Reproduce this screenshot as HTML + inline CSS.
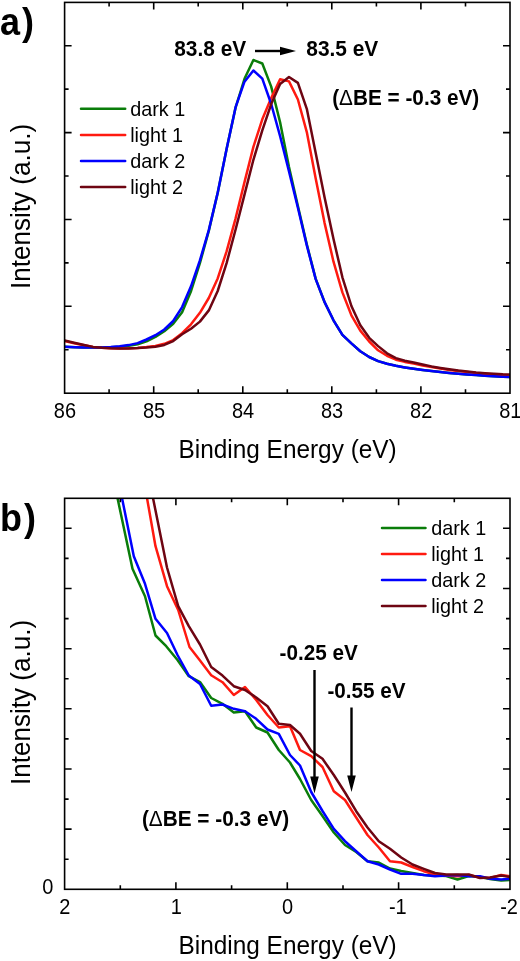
<!DOCTYPE html>
<html lang="en"><head><meta charset="utf-8"><title>XPS spectra</title>
<style>html,body{margin:0;padding:0;background:#fff;}svg{display:block;}text{font-family:"Liberation Sans",Arial,Helvetica,sans-serif;fill:#000;}.b{font-weight:bold;}.n{font-weight:normal;}</style>
</head><body>
<svg width="520" height="961" viewBox="0 0 520 961">
<rect x="0" y="0" width="520" height="961" fill="#fff"/>
<defs><clipPath id="ca"><rect x="64.6" y="2.4" width="445.4" height="390.8"/></clipPath>
<clipPath id="cb"><rect x="64.6" y="498.3" width="445.4" height="391.0"/></clipPath></defs>
<g clip-path="url(#ca)" fill="none" stroke-width="2.5" stroke-linejoin="round" stroke-linecap="round">
<polyline stroke="#0a7d0a" points="64.6,346.8 75.2,347.2 84.1,347.4 93.0,347.5 101.9,347.4 110.8,347.2 119.7,346.7 128.7,345.8 137.6,344.3 146.5,341.4 155.4,336.9 164.3,331.2 173.2,323.8 182.1,312.2 191.0,291.2 199.9,263.2 208.8,230.9 217.7,192.9 226.6,149.0 235.6,107.5 244.5,78.8 253.4,60.0 262.3,63.5 271.2,86.6 280.1,122.2 289.0,167.0 297.9,206.0 306.8,244.3 315.7,278.9 324.6,302.2 333.5,320.3 342.4,334.8 351.4,343.4 360.3,351.3 369.2,357.0 378.1,361.1 387.0,363.8 395.9,365.8 404.8,367.4 413.7,368.8 422.6,370.0 431.5,371.1 440.4,372.1 449.3,373.0 458.3,373.8 467.2,374.5 476.1,375.1 485.0,375.7 493.9,376.2 502.8,376.7 510.0,377.0"/>
<polyline stroke="#ff1a10" points="64.6,341.0 75.2,343.5 84.1,345.3 93.0,347.0 101.9,347.8 110.8,348.3 119.7,348.5 128.7,348.3 137.6,347.9 146.5,347.1 155.4,345.9 164.3,343.8 173.2,340.1 182.1,333.2 191.0,324.3 199.9,312.8 208.8,298.0 217.7,278.4 226.6,251.4 235.6,218.3 244.5,182.1 253.4,146.9 262.3,119.3 271.2,98.1 280.1,79.2 289.0,81.4 297.9,99.5 306.8,132.1 315.7,178.5 324.6,223.1 333.5,261.7 342.4,292.4 351.4,315.3 360.3,330.6 369.2,341.5 378.1,350.3 387.0,355.8 395.9,359.7 404.8,361.9 413.7,363.6 422.6,365.4 431.5,367.1 440.4,368.6 449.3,369.9 458.3,371.1 467.2,372.1 476.1,373.0 485.0,373.7 493.9,374.4 502.8,374.9 510.0,375.2"/>
<polyline stroke="#0000ff" points="64.6,346.8 75.2,347.2 84.1,347.4 93.0,347.5 101.9,347.4 110.8,347.0 119.7,346.2 128.7,345.1 137.6,343.1 146.5,339.5 155.4,335.2 164.3,329.5 173.2,321.0 182.1,307.1 191.0,286.3 199.9,260.4 208.8,230.1 217.7,192.8 226.6,149.0 235.6,107.2 244.5,81.7 253.4,70.5 262.3,78.6 271.2,104.0 280.1,136.2 289.0,171.4 297.9,207.8 306.8,245.4 315.7,279.1 324.6,302.1 333.5,320.3 342.4,334.8 351.4,343.4 360.3,351.3 369.2,357.0 378.1,361.1 387.0,363.8 395.9,365.8 404.8,367.4 413.7,368.8 422.6,370.0 431.5,371.1 440.4,372.1 449.3,373.0 458.3,373.8 467.2,374.5 476.1,375.1 485.0,375.7 493.9,376.2 502.8,376.7 510.0,377.0"/>
<polyline stroke="#6e0512" points="64.6,340.5 75.2,343.0 84.1,345.0 93.0,346.9 101.9,347.8 110.8,348.3 119.7,348.5 128.7,348.4 137.6,348.1 146.5,347.6 155.4,346.7 164.3,344.9 173.2,341.1 182.1,334.3 191.0,328.8 199.9,321.6 208.8,310.4 217.7,291.0 226.6,263.1 235.6,229.5 244.5,194.6 253.4,159.8 262.3,130.3 271.2,104.1 280.1,84.0 289.0,77.0 297.9,82.9 306.8,108.8 315.7,153.0 324.6,197.5 333.5,239.0 342.4,277.3 351.4,306.0 360.3,325.3 369.2,337.8 378.1,346.1 387.0,353.3 395.9,358.1 404.8,360.7 413.7,362.5 422.6,364.5 431.5,366.4 440.4,367.9 449.3,369.3 458.3,370.6 467.2,371.6 476.1,372.5 485.0,373.2 493.9,373.8 502.8,374.3 510.0,374.5"/>
</g>
<path d="M109.1 2.4v4M109.1 393.2v-4M153.7 2.4v7M153.7 393.2v-7M198.2 2.4v4M198.2 393.2v-4M242.8 2.4v7M242.8 393.2v-7M287.3 2.4v4M287.3 393.2v-4M331.8 2.4v7M331.8 393.2v-7M376.4 2.4v4M376.4 393.2v-4M420.9 2.4v7M420.9 393.2v-7M465.5 2.4v4M465.5 393.2v-4M64.6 45.7h7M510.0 45.7h-7M64.6 89.1h4M510.0 89.1h-4M64.6 132.6h7M510.0 132.6h-7M64.6 176.0h4M510.0 176.0h-4M64.6 219.5h7M510.0 219.5h-7M64.6 262.9h4M510.0 262.9h-4M64.6 306.3h7M510.0 306.3h-7M64.6 349.8h4M510.0 349.8h-4" stroke="#000" stroke-width="1.6" fill="none"/>
<rect x="64.6" y="2.4" width="445.4" height="390.8" fill="none" stroke="#000" stroke-width="1.6"/>
<text transform="translate(64.9 417.6) scale(1 1.060)" font-size="20" text-anchor="middle">86</text>
<text transform="translate(154.0 417.6) scale(1 1.060)" font-size="20" text-anchor="middle">85</text>
<text transform="translate(243.1 417.6) scale(1 1.060)" font-size="20" text-anchor="middle">84</text>
<text transform="translate(332.1 417.6) scale(1 1.060)" font-size="20" text-anchor="middle">83</text>
<text transform="translate(421.2 417.6) scale(1 1.060)" font-size="20" text-anchor="middle">82</text>
<text transform="translate(510.3 417.6) scale(1 1.060)" font-size="20" text-anchor="middle">81</text>
<text transform="translate(287.6 457.6) scale(1 1.060)" font-size="24.4" text-anchor="middle">Binding Energy (eV)</text>
<text transform="translate(29.7 206.4) rotate(-90) scale(1 1.060)" font-size="26.1" text-anchor="middle">Intensity (a.u.)</text>
<text class="b" transform="translate(0.0 35.0) scale(1 1.060)" font-size="36" letter-spacing="2">a)</text>
<line x1="81" x2="125.2" y1="108.8" y2="108.8" stroke="#0a7d0a" stroke-width="2.5" stroke-linecap="round"/>
<text transform="translate(130.2 115.7) scale(1 1.060)" font-size="19.8">dark 1</text>
<line x1="81" x2="125.2" y1="134.9" y2="134.9" stroke="#ff1a10" stroke-width="2.5" stroke-linecap="round"/>
<text transform="translate(130.2 141.8) scale(1 1.060)" font-size="19.8">light 1</text>
<line x1="81" x2="125.2" y1="161.0" y2="161.0" stroke="#0000ff" stroke-width="2.5" stroke-linecap="round"/>
<text transform="translate(130.2 167.9) scale(1 1.060)" font-size="19.8">dark 2</text>
<line x1="81" x2="125.2" y1="187.1" y2="187.1" stroke="#6e0512" stroke-width="2.5" stroke-linecap="round"/>
<text transform="translate(130.2 194.0) scale(1 1.060)" font-size="19.8">light 2</text>
<text class="b" transform="translate(174.2 56.0) scale(1 1.060)" font-size="20.9">83.8 eV</text>
<text class="b" transform="translate(306.3 56.0) scale(1 1.060)" font-size="20.9">83.5 eV</text>
<path d="M255 51H283" stroke="#000" stroke-width="2.4" fill="none"/><path d="M296 51L280 46.8V55.2Z" fill="#000"/>
<text class="b" transform="translate(332.2 105.0) scale(1 1.060)" font-size="20.75">(<tspan class="n">Δ</tspan>BE = -0.3 eV)</text>
<g clip-path="url(#cb)" fill="none" stroke-width="2.5" stroke-linejoin="round" stroke-linecap="round">
<polyline stroke="#0a7d0a" points="117.5,498.0 132.5,568.8 145.0,596.2 155.5,635.5 166.2,646.2 177.5,660.0 188.8,676.2 200.0,682.0 211.2,698.0 222.5,703.8 233.8,712.5 245.0,711.2 256.2,727.5 267.5,732.5 278.8,750.0 290.0,762.5 300.0,779.0 311.2,800.0 322.5,816.0 333.8,832.5 345.0,845.0 356.2,852.0 367.5,861.2 378.8,862.5 390.0,868.5 401.2,871.0 412.5,873.0 423.8,875.0 435.0,875.5 446.2,876.0 457.5,879.5 468.8,876.0 480.0,877.0 490.0,879.0 501.2,880.5 510.0,880.0"/>
<polyline stroke="#ff1a10" points="147.0,498.0 155.5,546.2 167.0,586.2 178.2,610.0 189.5,647.0 200.0,660.5 211.2,675.2 222.5,682.2 233.8,695.0 245.0,687.0 256.2,700.0 267.5,715.0 278.8,727.5 290.0,726.2 300.0,750.0 311.2,756.2 322.5,767.0 333.8,791.2 345.0,800.0 356.2,817.5 367.5,835.0 378.8,847.5 390.0,861.2 401.2,862.5 412.5,867.0 423.8,871.2 435.0,874.5 446.2,875.5 457.5,876.2 468.8,875.0 480.0,877.5 490.0,878.0 501.2,875.0 510.0,876.2"/>
<polyline stroke="#0000ff" points="122.0,498.0 133.8,556.2 145.0,583.8 155.5,618.8 167.0,633.0 177.5,655.0 188.8,675.5 200.0,684.0 211.2,705.8 222.5,704.5 233.8,708.8 245.0,711.2 256.2,718.8 267.5,729.5 278.8,733.8 290.0,755.0 300.0,765.5 311.2,792.0 322.5,811.0 333.8,828.8 345.0,841.2 356.2,851.2 367.5,861.2 378.8,864.5 390.0,869.5 401.2,873.8 412.5,873.8 423.8,875.0 435.0,876.2 446.2,875.5 457.5,875.0 468.8,876.2 480.0,876.2 490.0,878.8 501.2,879.5 510.0,878.8"/>
<polyline stroke="#6e0512" points="153.0,498.0 167.0,567.5 178.2,606.2 188.8,626.2 200.0,644.5 211.2,667.0 222.5,675.6 233.8,686.2 245.0,690.0 256.2,697.5 267.5,706.2 278.8,723.8 290.0,725.0 300.0,733.8 311.2,751.0 322.5,758.8 333.8,775.0 345.0,792.5 356.2,811.2 367.5,827.5 378.8,841.2 390.0,848.8 401.2,857.5 412.5,864.5 423.8,868.8 435.0,873.0 446.2,874.5 457.5,874.5 468.8,874.5 480.0,878.0 490.0,877.5 501.2,875.5 510.0,877.0"/>
</g>
<path d="M120.3 498.3v4M120.3 889.3v-4M175.9 498.3v7M175.9 889.3v-7M231.6 498.3v4M231.6 889.3v-4M287.3 498.3v7M287.3 889.3v-7M343.0 498.3v4M343.0 889.3v-4M398.6 498.3v7M398.6 889.3v-7M454.3 498.3v4M454.3 889.3v-4M64.6 859.2h4M510.0 859.2h-4M64.6 829.1h7M510.0 829.1h-7M64.6 799.1h4M510.0 799.1h-4M64.6 769.0h7M510.0 769.0h-7M64.6 738.9h4M510.0 738.9h-4M64.6 708.8h7M510.0 708.8h-7M64.6 678.7h4M510.0 678.7h-4M64.6 648.7h7M510.0 648.7h-7M64.6 618.6h4M510.0 618.6h-4M64.6 588.5h7M510.0 588.5h-7M64.6 558.4h4M510.0 558.4h-4M64.6 528.3h7M510.0 528.3h-7" stroke="#000" stroke-width="1.6" fill="none"/>
<rect x="64.6" y="498.3" width="445.4" height="391.0" fill="none" stroke="#000" stroke-width="1.6"/>
<text transform="translate(64.9 913.5) scale(1 1.060)" font-size="20" text-anchor="middle">2</text>
<text transform="translate(176.2 913.5) scale(1 1.060)" font-size="20" text-anchor="middle">1</text>
<text transform="translate(287.6 913.5) scale(1 1.060)" font-size="20" text-anchor="middle">0</text>
<text transform="translate(397.8 913.5) scale(1 1.060)" font-size="20" text-anchor="middle">-1</text>
<text transform="translate(509.1 913.5) scale(1 1.060)" font-size="20" text-anchor="middle">-2</text>
<text transform="translate(53.3 893.8) scale(1 1.060)" font-size="20" text-anchor="end">0</text>
<text transform="translate(287.6 953.8) scale(1 1.060)" font-size="24.4" text-anchor="middle">Binding Energy (eV)</text>
<text transform="translate(29.7 702.4) rotate(-90) scale(1 1.060)" font-size="26.1" text-anchor="middle">Intensity (a.u.)</text>
<text class="b" transform="translate(0.0 531.0) scale(1 1.060)" font-size="36" letter-spacing="2">b)</text>
<line x1="382" x2="425.5" y1="528.0" y2="528.0" stroke="#0a7d0a" stroke-width="2.5" stroke-linecap="round"/>
<text transform="translate(431.2 534.9) scale(1 1.060)" font-size="19.8">dark 1</text>
<line x1="382" x2="425.5" y1="554.0" y2="554.0" stroke="#ff1a10" stroke-width="2.5" stroke-linecap="round"/>
<text transform="translate(431.2 560.9) scale(1 1.060)" font-size="19.8">light 1</text>
<line x1="382" x2="425.5" y1="580.0" y2="580.0" stroke="#0000ff" stroke-width="2.5" stroke-linecap="round"/>
<text transform="translate(431.2 586.9) scale(1 1.060)" font-size="19.8">dark 2</text>
<line x1="382" x2="425.5" y1="606.0" y2="606.0" stroke="#6e0512" stroke-width="2.5" stroke-linecap="round"/>
<text transform="translate(431.2 612.9) scale(1 1.060)" font-size="19.8">light 2</text>
<text class="b" transform="translate(279.6 659.7) scale(1 1.060)" font-size="20.7">-0.25 eV</text>
<text class="b" transform="translate(327.4 698.4) scale(1 1.060)" font-size="20.7">-0.55 eV</text>
<path d="M314.5 670V780M351.5 707.5V779" stroke="#000" stroke-width="2.4" fill="none"/>
<path d="M314.5 793.5L310.2 776.5H318.8ZM351.5 792L347.2 775.5H355.8Z" fill="#000"/>
<text class="b" transform="translate(141.9 826.0) scale(1 1.060)" font-size="20.8">(<tspan class="n">Δ</tspan>BE = -0.3 eV)</text>
</svg></body></html>
